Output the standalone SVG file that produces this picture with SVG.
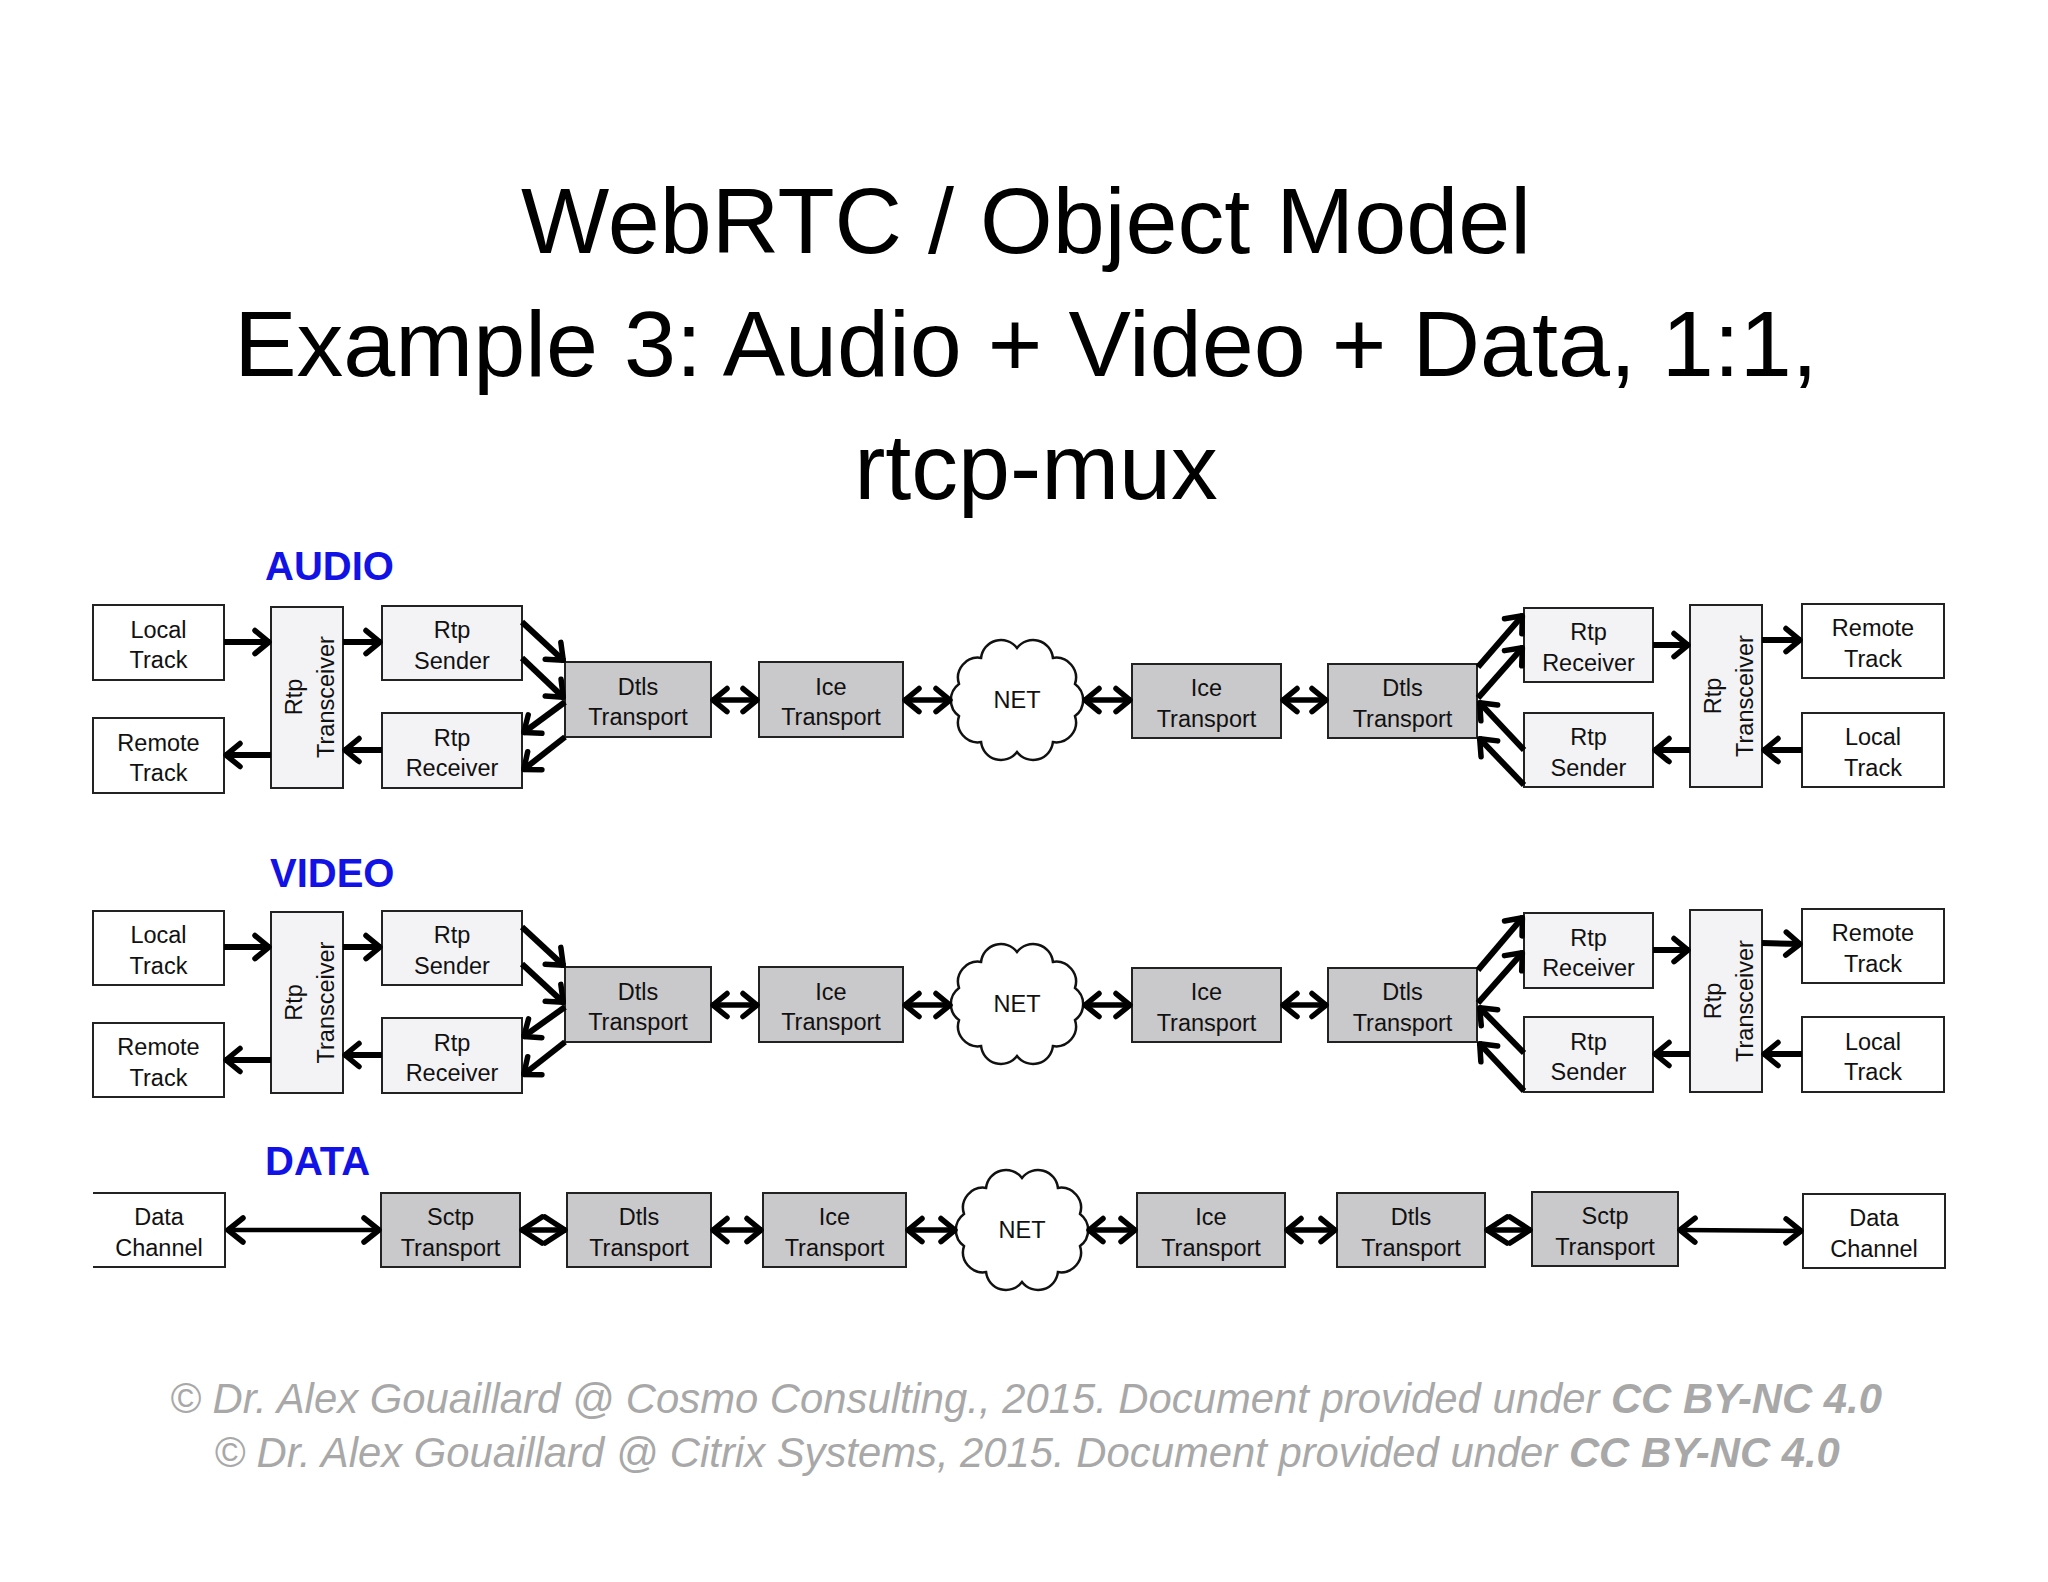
<svg xmlns="http://www.w3.org/2000/svg" xmlns:xlink="http://www.w3.org/1999/xlink" width="2048" height="1582" viewBox="0 0 2048 1582">
<style>
.t{font-family:"Liberation Sans",Arial,sans-serif;font-size:23.5px;fill:#111;text-anchor:middle}
.title{font-family:"Liberation Sans",Arial,sans-serif;font-size:93.5px;fill:#000;text-anchor:middle}
.sec{font-family:"Liberation Sans",Arial,sans-serif;font-size:40px;font-weight:bold;fill:#1212e6}
.foot{font-family:"Liberation Sans",Arial,sans-serif;font-size:41.8px;font-style:italic;fill:#a8a8a8;text-anchor:middle}
.w{fill:#fff;stroke:#222;stroke-width:2}
.l{fill:#f3f3f5;stroke:#222;stroke-width:2}
.g{fill:#c9c8cb;stroke:#222;stroke-width:2}
.cl{fill:#fff;stroke:#111;stroke-width:2.5}
.a{stroke:#000;stroke-width:6;fill:none;marker-end:url(#hd)}
.d{stroke:#000;stroke-width:5.5;fill:none;marker-start:url(#hd);marker-end:url(#hd)}
.dd{stroke:#000;stroke-width:5.5;fill:none;marker-start:url(#hdia);marker-end:url(#hdia)}
.dt{stroke:#000;stroke-width:4.5;fill:none;marker-start:url(#ht);marker-end:url(#ht)}
</style>
<defs>
<marker id="hd" markerUnits="userSpaceOnUse" viewBox="-22 -16 28 32" markerWidth="28" markerHeight="32" refX="0" refY="0" orient="auto-start-reverse">
<path d="M-15,-11.5 L-1,0 L-15,11.5" fill="none" stroke="#000" stroke-width="5.5" stroke-linecap="round" stroke-linejoin="round"/>
</marker>
<marker id="hdia" markerUnits="userSpaceOnUse" viewBox="-28 -18 34 36" markerWidth="34" markerHeight="36" refX="0" refY="0" orient="auto-start-reverse">
<path d="M-21,-13 L-1,0 L-21,13" fill="none" stroke="#000" stroke-width="5.5" stroke-linecap="round" stroke-linejoin="round"/>
</marker>
<marker id="ht" markerUnits="userSpaceOnUse" viewBox="-24 -18 30 36" markerWidth="30" markerHeight="36" refX="0" refY="0" orient="auto-start-reverse">
<path d="M-16,-12 L-1,0 L-16,12" fill="none" stroke="#000" stroke-width="5.5" stroke-linecap="round" stroke-linejoin="round"/>
</marker>
<path id="cloud" d="M0,-52 A20,20 0 0 1 35.9,-42.1 A20,20 0 0 1 58,-16.1 A20,20 0 0 1 58,16.1 A20,20 0 0 1 35.9,42.1 A20,20 0 0 1 0,52 A20,20 0 0 1 -35.9,42.1 A20,20 0 0 1 -58,16.1 A20,20 0 0 1 -58,-16.1 A20,20 0 0 1 -35.9,-42.1 A20,20 0 0 1 0,-52 Z"/>
</defs>
<rect x="0" y="0" width="2048" height="1582" fill="#fff"/>

<g id="title">
<text class="title" x="1026" y="253">WebRTC / Object Model</text>
<text class="title" x="1026" y="376">Example 3: Audio + Video + Data, 1:1,</text>
<text class="title" x="1036" y="499">rtcp-mux</text>
</g>
<text class="sec" x="265" y="580">AUDIO</text>
<text class="sec" x="270" y="887">VIDEO</text>
<text class="sec" x="265" y="1175">DATA</text>

<!-- AUDIO row nodes -->
<g id="a-local-l"><rect class="w" x="93" y="605" width="131" height="75"/><text class="t" x="158.5" y="638">Local</text><text class="t" x="158.5" y="668">Track</text></g>
<g id="a-trans-l"><rect class="l" x="271" y="607" width="72" height="181"/><text class="t" transform="translate(302,697) rotate(-90)">Rtp</text><text class="t" transform="translate(334,697) rotate(-90)">Transceiver</text></g>
<g id="a-sender-l"><rect class="l" x="382" y="606" width="140" height="74"/><text class="t" x="452" y="638">Rtp</text><text class="t" x="452" y="668.5">Sender</text></g>
<g id="a-receiver-l"><rect class="l" x="382" y="713" width="140" height="75"/><text class="t" x="452" y="745.5">Rtp</text><text class="t" x="452" y="776">Receiver</text></g>
<g id="a-remote-l"><rect class="w" x="93" y="718" width="131" height="75"/><text class="t" x="158.5" y="750.5">Remote</text><text class="t" x="158.5" y="781">Track</text></g>
<g id="a-dtls-l"><rect class="g" x="565" y="662" width="146" height="75"/><text class="t" x="638" y="694.5">Dtls</text><text class="t" x="638" y="725">Transport</text></g>
<g id="a-ice-l"><rect class="g" x="759" y="662" width="144" height="75"/><text class="t" x="831" y="694.5">Ice</text><text class="t" x="831" y="725">Transport</text></g>
<g id="a-net"><use xlink:href="#cloud" href="#cloud" class="cl" transform="translate(1017,700)"/><text class="t" x="1017" y="708">NET</text></g>
<g id="a-ice-r"><rect class="g" x="1132" y="664" width="149" height="74"/><text class="t" x="1206.5" y="696">Ice</text><text class="t" x="1206.5" y="726.5">Transport</text></g>
<g id="a-dtls-r"><rect class="g" x="1328" y="664" width="149" height="74"/><text class="t" x="1402.5" y="696">Dtls</text><text class="t" x="1402.5" y="726.5">Transport</text></g>
<g id="a-receiver-r"><rect class="l" x="1524" y="608" width="129" height="74"/><text class="t" x="1588.5" y="640">Rtp</text><text class="t" x="1588.5" y="670.5">Receiver</text></g>
<g id="a-sender-r"><rect class="l" x="1524" y="713" width="129" height="74"/><text class="t" x="1588.5" y="745">Rtp</text><text class="t" x="1588.5" y="775.5">Sender</text></g>
<g id="a-trans-r"><rect class="l" x="1690" y="605" width="72" height="182"/><text class="t" transform="translate(1721,696) rotate(-90)">Rtp</text><text class="t" transform="translate(1753,696) rotate(-90)">Transceiver</text></g>
<g id="a-remote-r"><rect class="w" x="1802" y="604" width="142" height="74"/><text class="t" x="1873" y="636">Remote</text><text class="t" x="1873" y="666.5">Track</text></g>
<g id="a-local-r"><rect class="w" x="1802" y="713" width="142" height="74"/><text class="t" x="1873" y="745">Local</text><text class="t" x="1873" y="775.5">Track</text></g>

<!-- VIDEO row nodes -->
<g id="v-local-l"><rect class="w" x="93" y="911" width="131" height="74"/><text class="t" x="158.5" y="943">Local</text><text class="t" x="158.5" y="973.5">Track</text></g>
<g id="v-trans-l"><rect class="l" x="271" y="912" width="72" height="181"/><text class="t" transform="translate(302,1002.5) rotate(-90)">Rtp</text><text class="t" transform="translate(334,1002.5) rotate(-90)">Transceiver</text></g>
<g id="v-sender-l"><rect class="l" x="382" y="911" width="140" height="74"/><text class="t" x="452" y="943">Rtp</text><text class="t" x="452" y="973.5">Sender</text></g>
<g id="v-receiver-l"><rect class="l" x="382" y="1018" width="140" height="75"/><text class="t" x="452" y="1050.5">Rtp</text><text class="t" x="452" y="1081">Receiver</text></g>
<g id="v-remote-l"><rect class="w" x="93" y="1023" width="131" height="74"/><text class="t" x="158.5" y="1055">Remote</text><text class="t" x="158.5" y="1085.5">Track</text></g>
<g id="v-dtls-l"><rect class="g" x="565" y="967" width="146" height="75"/><text class="t" x="638" y="999.5">Dtls</text><text class="t" x="638" y="1030">Transport</text></g>
<g id="v-ice-l"><rect class="g" x="759" y="967" width="144" height="75"/><text class="t" x="831" y="999.5">Ice</text><text class="t" x="831" y="1030">Transport</text></g>
<g id="v-net"><use xlink:href="#cloud" href="#cloud" class="cl" transform="translate(1017,1004)"/><text class="t" x="1017" y="1012">NET</text></g>
<g id="v-ice-r"><rect class="g" x="1132" y="968" width="149" height="74"/><text class="t" x="1206.5" y="1000">Ice</text><text class="t" x="1206.5" y="1030.5">Transport</text></g>
<g id="v-dtls-r"><rect class="g" x="1328" y="968" width="149" height="74"/><text class="t" x="1402.5" y="1000">Dtls</text><text class="t" x="1402.5" y="1030.5">Transport</text></g>
<g id="v-receiver-r"><rect class="l" x="1524" y="913" width="129" height="75"/><text class="t" x="1588.5" y="945.5">Rtp</text><text class="t" x="1588.5" y="976">Receiver</text></g>
<g id="v-sender-r"><rect class="l" x="1524" y="1017" width="129" height="75"/><text class="t" x="1588.5" y="1049.5">Rtp</text><text class="t" x="1588.5" y="1080">Sender</text></g>
<g id="v-trans-r"><rect class="l" x="1690" y="910" width="72" height="182"/><text class="t" transform="translate(1721,1001) rotate(-90)">Rtp</text><text class="t" transform="translate(1753,1001) rotate(-90)">Transceiver</text></g>
<g id="v-remote-r"><rect class="w" x="1802" y="909" width="142" height="74"/><text class="t" x="1873" y="941">Remote</text><text class="t" x="1873" y="971.5">Track</text></g>
<g id="v-local-r"><rect class="w" x="1802" y="1017" width="142" height="75"/><text class="t" x="1873" y="1049.5">Local</text><text class="t" x="1873" y="1080">Track</text></g>

<!-- DATA row nodes -->
<g id="d-chan-l"><rect x="93" y="1193" width="132" height="74" fill="#fff"/><path d="M93,1193 H225 V1267 H93" fill="none" stroke="#222" stroke-width="2"/><text class="t" x="159" y="1225">Data</text><text class="t" x="159" y="1255.5">Channel</text></g>
<g id="d-sctp-l"><rect class="g" x="381" y="1193" width="139" height="74"/><text class="t" x="450.5" y="1225">Sctp</text><text class="t" x="450.5" y="1255.5">Transport</text></g>
<g id="d-dtls-l"><rect class="g" x="567" y="1193" width="144" height="74"/><text class="t" x="639" y="1225">Dtls</text><text class="t" x="639" y="1255.5">Transport</text></g>
<g id="d-ice-l"><rect class="g" x="763" y="1193" width="143" height="74"/><text class="t" x="834.5" y="1225">Ice</text><text class="t" x="834.5" y="1255.5">Transport</text></g>
<g id="d-net"><use xlink:href="#cloud" href="#cloud" class="cl" transform="translate(1022,1230)"/><text class="t" x="1022" y="1238">NET</text></g>
<g id="d-ice-r"><rect class="g" x="1137" y="1193" width="148" height="74"/><text class="t" x="1211" y="1225">Ice</text><text class="t" x="1211" y="1255.5">Transport</text></g>
<g id="d-dtls-r"><rect class="g" x="1337" y="1193" width="148" height="74"/><text class="t" x="1411" y="1225">Dtls</text><text class="t" x="1411" y="1255.5">Transport</text></g>
<g id="d-sctp-r"><rect class="g" x="1532" y="1192" width="146" height="74"/><text class="t" x="1605" y="1224">Sctp</text><text class="t" x="1605" y="1254.5">Transport</text></g>
<g id="d-chan-r"><rect class="w" x="1803" y="1194" width="142" height="74"/><text class="t" x="1874" y="1226">Data</text><text class="t" x="1874" y="1256.5">Channel</text></g>

<g id="connectors">
<!-- audio left -->
<line class="a" x1="224" y1="642" x2="270" y2="642"/>
<line class="a" x1="343" y1="642" x2="381" y2="642"/>
<line class="a" x1="382" y1="750" x2="344" y2="750"/>
<line class="a" x1="271" y1="755" x2="225" y2="755"/>
<line class="a" x1="522" y1="622" x2="564" y2="661"/>
<line class="a" x1="522" y1="658" x2="564" y2="698"/>
<line class="a" x1="565" y1="702" x2="523" y2="733"/>
<line class="a" x1="565" y1="737" x2="523" y2="770"/>
<line class="d" x1="712" y1="700" x2="758" y2="700"/>
<line class="d" x1="904" y1="700" x2="951" y2="700"/>
<line class="d" x1="1084" y1="700" x2="1131" y2="700"/>
<line class="d" x1="1282" y1="700" x2="1327" y2="700"/>
<!-- audio right -->
<line class="a" x1="1478" y1="667" x2="1523" y2="615"/>
<line class="a" x1="1478" y1="698" x2="1523" y2="647"/>
<line class="a" x1="1524" y1="750" x2="1479" y2="702"/>
<line class="a" x1="1524" y1="785" x2="1479" y2="738"/>
<line class="a" x1="1653" y1="645" x2="1689" y2="645"/>
<line class="a" x1="1762" y1="640" x2="1801" y2="640"/>
<line class="a" x1="1690" y1="750" x2="1654" y2="750"/>
<line class="a" x1="1802" y1="750" x2="1763" y2="750"/>
<!-- video left -->
<line class="a" x1="224" y1="947" x2="270" y2="947"/>
<line class="a" x1="343" y1="947" x2="381" y2="947"/>
<line class="a" x1="382" y1="1055" x2="344" y2="1055"/>
<line class="a" x1="271" y1="1060" x2="225" y2="1060"/>
<line class="a" x1="522" y1="927" x2="564" y2="966"/>
<line class="a" x1="522" y1="964" x2="564" y2="1003"/>
<line class="a" x1="565" y1="1007" x2="523" y2="1037"/>
<line class="a" x1="565" y1="1042" x2="523" y2="1075"/>
<line class="d" x1="712" y1="1005" x2="758" y2="1005"/>
<line class="d" x1="904" y1="1005" x2="951" y2="1005"/>
<line class="d" x1="1084" y1="1005" x2="1131" y2="1005"/>
<line class="d" x1="1282" y1="1005" x2="1327" y2="1005"/>
<!-- video right -->
<line class="a" x1="1478" y1="970" x2="1523" y2="917"/>
<line class="a" x1="1478" y1="1003" x2="1523" y2="952"/>
<line class="a" x1="1524" y1="1053" x2="1479" y2="1007"/>
<line class="a" x1="1524" y1="1091" x2="1479" y2="1043"/>
<line class="a" x1="1653" y1="950" x2="1689" y2="950"/>
<line class="a" x1="1762" y1="943" x2="1801" y2="944"/>
<line class="a" x1="1690" y1="1054" x2="1654" y2="1054"/>
<line class="a" x1="1802" y1="1054" x2="1763" y2="1054"/>
<!-- data -->
<line class="dt" x1="227" y1="1230" x2="380" y2="1230"/>
<line class="dd" x1="521" y1="1230" x2="566" y2="1230"/>
<line class="d" x1="712" y1="1230" x2="762" y2="1230"/>
<line class="d" x1="907" y1="1230" x2="956" y2="1230"/>
<line class="d" x1="1088" y1="1230" x2="1136" y2="1230"/>
<line class="d" x1="1286" y1="1230" x2="1336" y2="1230"/>
<line class="dd" x1="1486" y1="1230" x2="1531" y2="1230"/>
<line class="dt" x1="1679" y1="1230" x2="1802" y2="1231"/>
</g>

<g id="footer">
<text class="foot" x="1026" y="1413">© Dr. Alex Gouaillard @ Cosmo Consulting., 2015. Document provided under <tspan font-weight="bold">CC BY-NC 4.0</tspan></text>
<text class="foot" x="1027" y="1467">© Dr. Alex Gouaillard @ Citrix Systems, 2015. Document provided under <tspan font-weight="bold">CC BY-NC 4.0</tspan></text>
</g>
</svg>
